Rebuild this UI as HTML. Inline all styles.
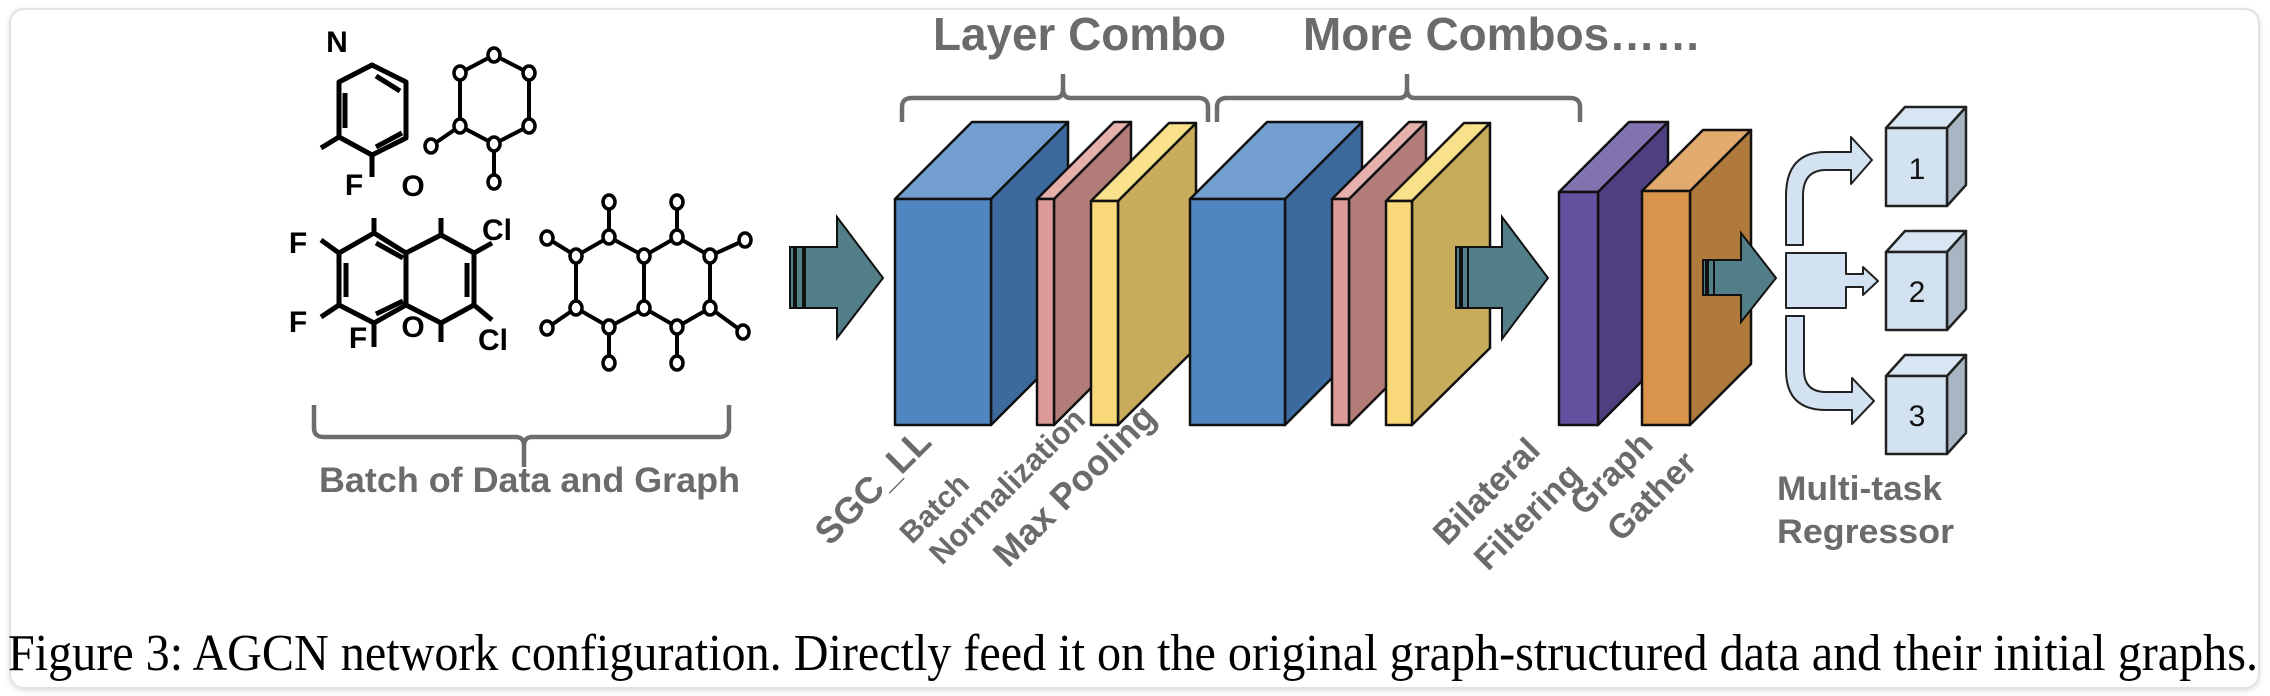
<!DOCTYPE html>
<html><head><meta charset="utf-8"><style>
html,body{margin:0;padding:0;background:#fff;}
svg{display:block;}
</style></head><body>
<svg width="2270" height="696" viewBox="0 0 2270 696" xmlns="http://www.w3.org/2000/svg">
<defs><filter id="sh" x="-2%" y="-5%" width="104%" height="110%"><feDropShadow dx="0" dy="2" stdDeviation="3" flood-color="#000" flood-opacity="0.12"/></filter></defs>
<rect x="10" y="9" width="2249" height="679" rx="14" fill="#fff" stroke="#e2e2e2" stroke-width="2" filter="url(#sh)"/>

<g font-family="Liberation Sans, Arial, sans-serif" font-weight="bold">
<!-- Molecule 1 -->
<g stroke="#000" stroke-width="5" fill="none" stroke-linejoin="round">
<polygon points="372,65 406,82 406,138 372,155 339,137 339,82"/>
<line x1="339" y1="137" x2="321" y2="148"/>
<line x1="372" y1="155" x2="372" y2="177"/>
<line x1="345" y1="93" x2="345" y2="128"/>
<line x1="376" y1="76" x2="400" y2="91"/>
<line x1="376" y1="147" x2="402" y2="133"/>
</g>
<text x="337" y="52" font-size="30" text-anchor="middle" fill="#000">N</text>
<text x="354" y="195" font-size="30" text-anchor="middle" fill="#000">F</text>
<text x="413" y="196" font-size="30" text-anchor="middle" fill="#000">O</text>

<!-- Graph 1 -->
<g stroke="#000" stroke-width="4" fill="none">
<polygon points="494,55 529,73 529,126 494,144 460,126 460,73"/>
<line x1="460" y1="126" x2="431" y2="146"/>
<line x1="494" y1="144" x2="494" y2="182"/>
</g>
<g fill="#fff" stroke="#000" stroke-width="3.5">
<ellipse cx="494" cy="55" rx="6" ry="7"/><ellipse cx="529" cy="73" rx="6" ry="7"/><ellipse cx="529" cy="126" rx="6" ry="7"/>
<ellipse cx="494" cy="144" rx="6" ry="7"/><ellipse cx="460" cy="126" rx="6" ry="7"/><ellipse cx="460" cy="73" rx="6" ry="7"/>
<ellipse cx="431" cy="146" rx="6" ry="7"/><ellipse cx="494" cy="182" rx="6" ry="7"/>
</g>

<!-- Molecule 2 -->
<g stroke="#000" stroke-width="5" fill="none" stroke-linejoin="round">
<polygon points="374,233 406,253 406,305 374,323 339,305 339,253"/>
<polyline points="406,253 441,235 474,253 474,305 441,323 406,305"/>
<line x1="374" y1="233" x2="374" y2="218"/>
<line x1="441" y1="235" x2="441" y2="218"/>
<line x1="339" y1="253" x2="321" y2="240"/>
<line x1="339" y1="305" x2="321" y2="317"/>
<line x1="474" y1="253" x2="492" y2="243"/>
<line x1="474" y1="305" x2="492" y2="320"/>
<line x1="374" y1="323" x2="374" y2="347"/>
<line x1="441" y1="323" x2="441" y2="342"/>
<line x1="346" y1="263" x2="346" y2="297"/>
<line x1="376" y1="243" x2="403" y2="258"/>
<line x1="376" y1="314" x2="403" y2="301"/>
<line x1="467" y1="263" x2="467" y2="297"/>
</g>
<g font-size="30" fill="#000">
<text x="298" y="253" text-anchor="middle">F</text>
<text x="298" y="332" text-anchor="middle">F</text>
<text x="358" y="348" text-anchor="middle">F</text>
<text x="413" y="337" text-anchor="middle">O</text>
<text x="497" y="240" text-anchor="middle">Cl</text>
<text x="493" y="350" text-anchor="middle">Cl</text>
</g>

<!-- Graph 2 -->
<g stroke="#000" stroke-width="4" fill="none">
<polygon points="609,237 644,256 644,308 609,327 576,308 576,256"/>
<polyline points="644,256 677,237 710,256 710,308 677,327 644,308"/>
<line x1="609" y1="237" x2="609" y2="202"/><line x1="677" y1="237" x2="677" y2="202"/>
<line x1="576" y1="256" x2="547" y2="238"/><line x1="710" y1="256" x2="745" y2="240"/>
<line x1="576" y1="308" x2="547" y2="328"/><line x1="710" y1="308" x2="743" y2="332"/>
<line x1="609" y1="327" x2="609" y2="363"/><line x1="677" y1="327" x2="677" y2="363"/>
</g>
<g fill="#fff" stroke="#000" stroke-width="3.5">
<ellipse cx="609" cy="237" rx="6" ry="7"/><ellipse cx="644" cy="256" rx="6" ry="7"/><ellipse cx="644" cy="308" rx="6" ry="7"/>
<ellipse cx="609" cy="327" rx="6" ry="7"/><ellipse cx="576" cy="308" rx="6" ry="7"/><ellipse cx="576" cy="256" rx="6" ry="7"/>
<ellipse cx="677" cy="237" rx="6" ry="7"/><ellipse cx="710" cy="256" rx="6" ry="7"/><ellipse cx="710" cy="308" rx="6" ry="7"/>
<ellipse cx="677" cy="327" rx="6" ry="7"/>
<ellipse cx="609" cy="202" rx="6" ry="7"/><ellipse cx="677" cy="202" rx="6" ry="7"/>
<ellipse cx="547" cy="238" rx="6" ry="7"/><ellipse cx="745" cy="240" rx="6" ry="7"/>
<ellipse cx="547" cy="328" rx="6" ry="7"/><ellipse cx="743" cy="332" rx="6" ry="7"/>
<ellipse cx="609" cy="363" rx="6" ry="7"/><ellipse cx="677" cy="363" rx="6" ry="7"/>
</g>

<!-- Braces -->
<g stroke="#6d6d6d" stroke-width="4.5" fill="none" stroke-linejoin="round">
<path d="M314,405 L314,428 Q314,437 324,437 L516,437 Q524,437 524,446 L524,467 M524,446 Q524,437 532,437 L719,437 Q729,437 729,428 L729,405"/>
<path d="M902,122 L902,107 Q902,98 912,98 L1055,98 Q1063,98 1063,89 L1063,74 M1063,89 Q1063,98 1071,98 L1198,98 Q1208,98 1208,107 L1208,122"/>
<path d="M1217,122 L1217,107 Q1217,98 1227,98 L1399,98 Q1407,98 1407,89 L1407,74 M1407,89 Q1407,98 1415,98 L1570,98 Q1580,98 1580,107 L1580,122"/>
</g>

<g fill="#6b6b6b">
<text x="319" y="492" font-size="35" textLength="421" lengthAdjust="spacingAndGlyphs">Batch of Data and Graph</text>
<text x="933" y="50" font-size="46" textLength="293" lengthAdjust="spacingAndGlyphs">Layer Combo</text>
<text x="1303" y="50" font-size="46" textLength="398" lengthAdjust="spacingAndGlyphs">More Combos……</text>
<text x="1777" y="500" font-size="34" textLength="165" lengthAdjust="spacingAndGlyphs">Multi-task</text>
<text x="1777" y="543" font-size="34" textLength="177" lengthAdjust="spacingAndGlyphs">Regressor</text>
<text transform="translate(830,547) rotate(-45)" font-size="37">SGC_LL</text>
<text transform="translate(912,545) rotate(-45)" font-size="30">Batch</text>
<text transform="translate(942,566) rotate(-45)" font-size="31">Normalization</text>
<text transform="translate(1008,569) rotate(-45)" font-size="36">Max Pooling</text>
<text transform="translate(1447,547) rotate(-45)" font-size="34">Bilateral</text>
<text transform="translate(1488,572) rotate(-45)" font-size="34">Filtering</text>
<text transform="translate(1584,517) rotate(-45)" font-size="34">Graph</text>
<text transform="translate(1621,543) rotate(-45)" font-size="34">Gather</text>
</g>
</g>

<!-- Arrow 1 -->
<g stroke="#111" stroke-width="2" fill="#527e88">
<rect x="790" y="247" width="4" height="61"/>
<rect x="796" y="247" width="7" height="61"/>
<polygon points="805,247 837,247 837,217 883,278 837,338 837,308 805,308"/>
</g>

<!-- Blocks -->
<g stroke="#111" stroke-width="2.5" stroke-linejoin="round">
<polygon points="991,199 1068,122 1068,348 991,425" fill="#3d6a9c"/>
<polygon points="895,199 972,122 1068,122 991,199" fill="#729fcf"/>
<rect x="895" y="199" width="96" height="226" fill="#4f86c0"/>
<polygon points="1054,199 1131,122 1131,348 1054,425" fill="#b27c78"/>
<polygon points="1037,199 1114,122 1131,122 1054,199" fill="#e6b0ac"/>
<rect x="1037" y="199" width="17" height="226" fill="#dc9a98"/>
<polygon points="1118,201 1196,123 1196,348 1118,425" fill="#c8ac5c"/>
<polygon points="1091,201 1169,123 1196,123 1118,201" fill="#f9e08a"/>
<rect x="1091" y="201" width="27" height="224" fill="#f8d878"/>
<polygon points="1285,199 1362,122 1362,348 1285,425" fill="#3d6a9c"/>
<polygon points="1190,199 1267,122 1362,122 1285,199" fill="#729fcf"/>
<rect x="1190" y="199" width="95" height="226" fill="#4f86c0"/>
<polygon points="1349,199 1426,122 1426,348 1349,425" fill="#b27c78"/>
<polygon points="1332,199 1409,122 1426,122 1349,199" fill="#e6b0ac"/>
<rect x="1332" y="199" width="17" height="226" fill="#dc9a98"/>
<polygon points="1412,201 1490,123 1490,348 1412,425" fill="#c8ac5c"/>
<polygon points="1386,201 1464,123 1490,123 1412,201" fill="#f9e08a"/>
<rect x="1386" y="201" width="26" height="224" fill="#f8d878"/>
</g>

<!-- Arrow 2 -->
<g stroke="#111" stroke-width="2" fill="#527e88">
<rect x="1456" y="247" width="4" height="61"/>
<rect x="1462" y="247" width="6" height="61"/>
<polygon points="1468,247 1502,247 1502,217 1548,278 1502,339 1502,308 1468,308"/>
</g>

<g stroke="#111" stroke-width="2.5" stroke-linejoin="round">
<polygon points="1598,192 1668,122 1668,355 1598,425" fill="#4e3f80"/>
<polygon points="1559,192 1629,122 1668,122 1598,192" fill="#8273b0"/>
<rect x="1559" y="192" width="39" height="233" fill="#6452a0"/>
<polygon points="1690,191 1751,130 1751,364 1690,425" fill="#b07a3c"/>
<polygon points="1642,191 1703,130 1751,130 1690,191" fill="#e3aa6e"/>
<rect x="1642" y="191" width="48" height="234" fill="#d8944a"/>
</g>

<!-- Arrow 3 -->
<g stroke="#111" stroke-width="2" fill="#527e88">
<rect x="1703" y="260" width="3" height="35"/>
<rect x="1708" y="260" width="6" height="35"/>
<polygon points="1714,260 1741,260 1741,233 1776,278 1741,322 1741,295 1714,295"/>
</g>

<!-- Regressor arrows -->
<g stroke="#222" stroke-width="2" fill="#d3e2f1" stroke-linejoin="round">
<path d="M1786,245 L1786,196 Q1786,152 1826,152 L1851,152 L1851,137 L1872,160 L1851,184 L1851,170 L1826,170 Q1803,170 1803,196 L1803,245 Z"/>
<path d="M1786,316 L1786,370 Q1786,410 1826,410 L1852,410 L1852,424 L1874,401 L1852,378 L1852,392 L1826,392 Q1804,392 1804,370 L1804,316 Z"/>
<path d="M1786,253 L1846,253 L1846,274 L1863,274 L1863,267 L1878,281 L1863,295 L1863,287 L1846,287 L1846,308 L1786,308 Z"/>
</g>

<!-- Cubes -->
<g stroke="#222" stroke-width="2.5" stroke-linejoin="round">
<polygon points="1947,128 1966,107 1966,185 1947,206" fill="#a8b6c4"/>
<polygon points="1886,128 1905,107 1966,107 1947,128" fill="#d8e6f3"/>
<rect x="1886" y="128" width="61" height="78" fill="#d3e2f1"/>
<polygon points="1947,252 1966,231 1966,309 1947,330" fill="#a8b6c4"/>
<polygon points="1886,252 1905,231 1966,231 1947,252" fill="#d8e6f3"/>
<rect x="1886" y="252" width="61" height="78" fill="#d3e2f1"/>
<polygon points="1947,376 1966,355 1966,433 1947,454" fill="#a8b6c4"/>
<polygon points="1886,376 1905,355 1966,355 1947,376" fill="#d8e6f3"/>
<rect x="1886" y="376" width="61" height="78" fill="#d3e2f1"/>
</g>
<g font-family="Liberation Sans, Arial, sans-serif" font-size="30" fill="#111" text-anchor="middle">
<text x="1917" y="179">1</text>
<text x="1917" y="302">2</text>
<text x="1917" y="426">3</text>
</g>

<text x="8" y="670" font-family="Liberation Serif, Times New Roman, serif" font-size="52" fill="#000" textLength="2250" lengthAdjust="spacingAndGlyphs">Figure 3: AGCN network configuration. Directly feed it on the original graph-structured data and their initial graphs.</text>
</svg>
</body></html>
